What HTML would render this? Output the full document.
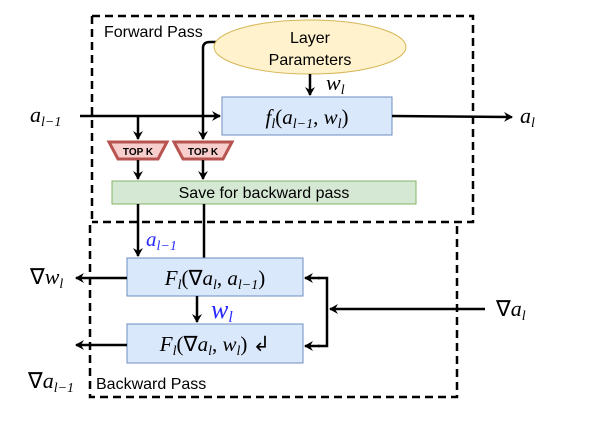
<!DOCTYPE html>
<html><head><meta charset="utf-8"><style>
html,body{margin:0;padding:0;background:#fff;}
svg{display:block;}
.s{font-family:"Liberation Sans",sans-serif;}
.m{font-family:"Liberation Serif",serif;font-style:italic;}
</style></head><body>
<svg width="607" height="439" viewBox="0 0 607 439" xmlns="http://www.w3.org/2000/svg">
<defs>
<marker id="ar" markerWidth="10" markerHeight="10" refX="8" refY="5" orient="auto" markerUnits="userSpaceOnUse">
<path d="M0,0 L9,5 L0,10 L3,5 Z" fill="#000"/></marker>
</defs>
<g fill="none" stroke="#000" stroke-width="2.5" stroke-dasharray="8,5">
<path d="M92,16 L473,16 L473,222 L92,222"/>
<path d="M92,16 L92,222"/>
<path d="M90,225 L90,397 L457,397 L457,222"/>
</g>
<text x="104" y="37" class="s" font-size="16">Forward Pass</text>
<text x="96" y="389" class="s" font-size="16">Backward Pass</text>
<path d="M203,115 L203,48 Q203,42 210,42 L216,42" fill="none" stroke="#000" stroke-width="2.5"/>
<ellipse cx="310" cy="47" rx="96" ry="27" fill="#fff2cc" stroke="#d6b656" stroke-width="1"/>
<text x="310" y="43" class="s" font-size="16" text-anchor="middle">Layer</text>
<text x="310" y="65" class="s" font-size="16" text-anchor="middle">Parameters</text>
<line x1="310" y1="74" x2="310" y2="95" stroke="#000" stroke-width="2.5" marker-end="url(#ar)"/>
<text x="326" y="90" class="m" font-size="22">w<tspan font-size="14" dy="4">l</tspan></text>
<rect x="222" y="97" width="170" height="38" fill="#dae8fc" stroke="#6c8ebf" stroke-width="1"/>
<text x="307" y="124" class="m" font-size="21" text-anchor="middle">f<tspan font-size="14" dy="4">l</tspan><tspan dy="-4" font-style="normal">(</tspan>a<tspan font-size="14" dy="4">l−1</tspan><tspan dy="-4" font-style="normal">, </tspan>w<tspan font-size="14" dy="4">l</tspan><tspan dy="-4" font-style="normal">)</tspan></text>
<line x1="80" y1="116" x2="220" y2="116" stroke="#000" stroke-width="2.5" marker-end="url(#ar)"/>
<text x="30" y="122" class="m" font-size="22">a<tspan font-size="14" dy="4">l−1</tspan></text>
<line x1="392" y1="116" x2="512" y2="117" stroke="#000" stroke-width="2.5" marker-end="url(#ar)"/>
<text x="520" y="123" class="m" font-size="22">a<tspan font-size="14" dy="4">l</tspan></text>
<line x1="138" y1="116" x2="138" y2="139" stroke="#000" stroke-width="2.5" marker-end="url(#ar)"/>
<line x1="203" y1="115" x2="203" y2="139" stroke="#000" stroke-width="2.5" marker-end="url(#ar)"/>
<path d="M109,142 L167,142 L158,159 L118,159 Z" fill="#f8cecc" stroke="#b85450" stroke-width="3"/>
<path d="M174,142 L232,142 L223,159 L183,159 Z" fill="#f8cecc" stroke="#b85450" stroke-width="3"/>
<text x="138" y="155" class="s" font-size="10" font-weight="bold" text-anchor="middle">TOP K</text>
<text x="203" y="155" class="s" font-size="10" font-weight="bold" text-anchor="middle">TOP K</text>
<line x1="138" y1="160" x2="138" y2="179" stroke="#000" stroke-width="2.5" marker-end="url(#ar)"/>
<line x1="203" y1="160" x2="203" y2="179" stroke="#000" stroke-width="2.5" marker-end="url(#ar)"/>
<rect x="112" y="181" width="304" height="23" fill="#d5e8d4" stroke="#82b366" stroke-width="1"/>
<text x="264" y="198" class="s" font-size="16" text-anchor="middle">Save for backward pass</text>
<line x1="138" y1="204" x2="138" y2="256" stroke="#000" stroke-width="2.5" marker-end="url(#ar)"/>
<line x1="204" y1="204" x2="204" y2="258" stroke="#000" stroke-width="2.5"/>
<text x="146" y="246" class="m" font-size="21" fill="#2a2aff">a<tspan font-size="14" dy="4">l−1</tspan></text>
<rect x="127" y="258" width="176" height="38" fill="#dae8fc" stroke="#6c8ebf" stroke-width="1"/>
<text x="215" y="285" class="m" font-size="21" text-anchor="middle">F<tspan font-size="14" dy="4">l</tspan><tspan dy="-4" font-style="normal">(∇</tspan>a<tspan font-size="14" dy="4">l</tspan><tspan dy="-4" font-style="normal">, </tspan>a<tspan font-size="14" dy="4">l−1</tspan><tspan dy="-4" font-style="normal">)</tspan></text>
<line x1="197" y1="296" x2="197" y2="322" stroke="#000" stroke-width="2.5" marker-end="url(#ar)"/>
<text x="211" y="318" class="m" font-size="26" fill="#2a2aff">w<tspan font-size="16" dy="4">l</tspan></text>
<rect x="127" y="324" width="176" height="39" fill="#dae8fc" stroke="#6c8ebf" stroke-width="1"/>
<text x="215" y="351" class="m" font-size="21" text-anchor="middle">F<tspan font-size="14" dy="4">l</tspan><tspan dy="-4" font-style="normal">(∇</tspan>a<tspan font-size="14" dy="4">l</tspan><tspan dy="-4" font-style="normal">, </tspan>w<tspan font-size="14" dy="4">l</tspan><tspan dy="-4" font-style="normal">) ↲</tspan></text>
<line x1="127" y1="278" x2="76" y2="278" stroke="#000" stroke-width="2.5" marker-end="url(#ar)"/>
<line x1="127" y1="345" x2="76" y2="345" stroke="#000" stroke-width="2.5" marker-end="url(#ar)"/>
<text x="30" y="284" class="m" font-size="22"><tspan font-style="normal">∇</tspan>w<tspan font-size="14" dy="4">l</tspan></text>
<text x="28" y="388" class="m" font-size="22"><tspan font-style="normal">∇</tspan>a<tspan font-size="14" dy="4">l−1</tspan></text>
<line x1="485" y1="309" x2="330" y2="309" stroke="#000" stroke-width="2.5" marker-end="url(#ar)"/>
<path d="M318,278 L327,278 L327,346 L318,346" fill="none" stroke="#000" stroke-width="2.5"/>
<line x1="320" y1="278" x2="305" y2="278" stroke="#000" stroke-width="2.5" marker-end="url(#ar)"/>
<line x1="320" y1="346" x2="305" y2="346" stroke="#000" stroke-width="2.5" marker-end="url(#ar)"/>
<text x="496" y="316" class="m" font-size="22"><tspan font-style="normal">∇</tspan>a<tspan font-size="14" dy="4">l</tspan></text>
</svg>
</body></html>
